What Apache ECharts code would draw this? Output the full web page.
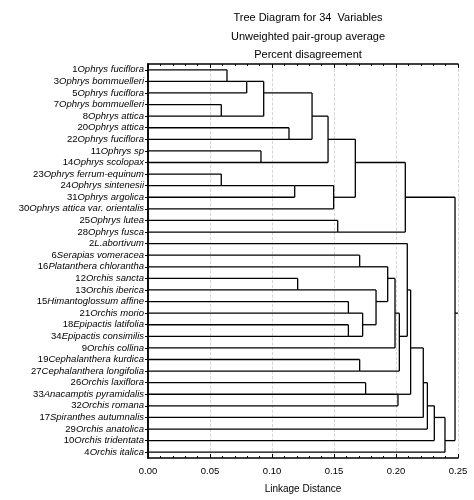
<!DOCTYPE html>
<html><head><meta charset="utf-8">
<script src="https://cdn.jsdelivr.net/npm/echarts@6/dist/echarts.min.js"></script>
<style>html,body{margin:0;padding:0;background:#fff}#c{width:474px;height:500px}</style>
</head><body><div id="c"></div>
<script>
const leafNums = ['1','3','5','7','8','20','22','11','14','23','24','31','30','25','28','2','6','16','12','13','15','21','18','34','9','19','27','26','33','32','17','29','10','4'];
const leafNames = ['Ophrys fuciflora','Ophrys bommuelleri','Ophrys fuciflora','Ophrys bommuelleri','Ophrys attica','Ophrys attica','Ophrys fuciflora','Ophrys sp','Ophrys scolopax','Ophrys ferrum-equinum','Ophrys sintenesii','Ophrys argolica','Ophrys attica var. orientalis','Ophrys lutea','Ophrys fusca','L.abortivum','Serapias vomeracea','Platanthera chlorantha','Orchis sancta','Orchis iberica','Himantoglossum affine','Orchis morio','Epipactis latifolia','Epipactis consimilis','Orchis collina','Cephalanthera kurdica','Cephalanthera longifolia','Orchis laxiflora','Anacamptis pyramidalis','Orchis romana','Spiranthes autumnalis','Orchis anatolica','Orchis tridentata','Orchis italica'];
// merges: node id = 34 + index; [childA, childB, linkage distance]
const merges = [
[0,1,0.0637],[34,2,0.0796],[3,4,0.0591],[35,36,0.0933],[5,6,0.1137],[37,38,0.1323],
[7,8,0.0911],[39,40,0.1452],[9,10,0.0591],[42,11,0.1183],[43,12,0.1497],[41,44,0.1672],
[13,14,0.153],[45,46,0.2075],[16,17,0.1707],[18,19,0.1207],[20,21,0.1616],[22,23,0.1616],
[50,51,0.1731],[49,52,0.1839],[48,53,0.1933],[54,24,0.1992],[25,26,0.1707],[55,56,0.2027],
[15,57,0.2091],[27,28,0.1755],[59,29,0.2016],[58,60,0.2118],[61,30,0.222],[62,31,0.2253],
[63,32,0.2309],[64,33,0.2395],[47,65,0.2476]];
const xTicks = [0,0.05,0.10,0.15,0.20,0.25];

const N = leafNums.length;
const pos = [];
for (let i=0;i<N;i++) pos.push({x:0,y:i});
const segs = [];
merges.forEach(m=>{
  const a=pos[m[0]], b=pos[m[1]], h=m[2];
  segs.push([a.x,a.y,h,a.y]); segs.push([b.x,b.y,h,b.y]); segs.push([h,a.y,h,b.y]);
  pos.push({x:h,y:(a.y+b.y)/2});
});
const rootNode = pos[pos.length-1];
segs.push([rootNode.x, rootNode.y, 0.25, rootNode.y]);
const cats = leafNums.map((n,i)=>n+'|'+leafNames[i]);
const chart = echarts.init(document.getElementById('c'));
const F='Liberation Sans';
chart.setOption({
  animation:false,
  title:{text:'Tree Diagram for 34  Variables\nUnweighted pair-group average\nPercent disagreement',left:303,textAlign:'center',top:4,
    textStyle:{fontFamily:F,fontSize:11,fontWeight:'normal',color:'#000',lineHeight:18.5}},
  grid:{left:148,right:16,top:64,bottom:42},
  xAxis:[{type:'value',min:0,max:0.25,interval:0.05,name:'Linkage Distance',nameLocation:'middle',nameGap:26,
    nameTextStyle:{fontFamily:F,fontSize:10,color:'#000'},
    axisLine:{show:true,lineStyle:{color:'#000',width:1.5}},axisTick:{show:true,inside:true,length:4,lineStyle:{color:'#000'}},
    minorTick:{show:true,splitNumber:5,length:2,lineStyle:{color:'#000'}},
    axisLabel:{fontFamily:F,fontSize:9.5,color:'#000',formatter:v=>v.toFixed(2)},
    splitLine:{show:true,lineStyle:{color:'#ccc',type:'dashed',width:0.8}}},
   {type:'value',position:'top',min:0,max:0.25,interval:0.05,axisLine:{show:true,lineStyle:{color:'#000',width:1.5}},
    axisTick:{show:true,inside:true,length:4,lineStyle:{color:'#000'}},minorTick:{show:true,splitNumber:5,length:2,lineStyle:{color:'#000'}},
    axisLabel:{show:false},splitLine:{show:false}}],
  yAxis:[{type:'category',data:cats,inverse:true,axisLine:{show:true,lineStyle:{color:'#000',width:1.5}},
    axisTick:{show:false},
    axisLabel:{interval:0,margin:4,formatter:v=>{const p=v.split('|');return '{n|'+p[0]+'}{t|'+p[1]+'}';},
      rich:{n:{fontFamily:F,fontSize:9.5,color:'#000'},t:{fontFamily:F,fontSize:9.5,fontStyle:'italic',color:'#000'}}}},
   {type:'category',data:cats,inverse:true,position:'right',axisLine:{show:true,lineStyle:{color:'#000',width:1.5}},
    axisTick:{show:true,inside:true,length:3,alignWithLabel:true,interval:0,lineStyle:{color:'#000'}},axisLabel:{show:false}}],
  series:[{type:'custom',xAxisIndex:0,yAxisIndex:0,data:segs,clip:false,
    renderItem:(params,api)=>{
      const p1=api.coord([api.value(0),api.value(1)]), p2=api.coord([api.value(2),api.value(3)]);
      return {type:'line',shape:{x1:p1[0],y1:p1[1],x2:p2[0],y2:p2[1]},style:{stroke:'#000',lineWidth:1.3}};
    }}]
});
</script></body></html>
